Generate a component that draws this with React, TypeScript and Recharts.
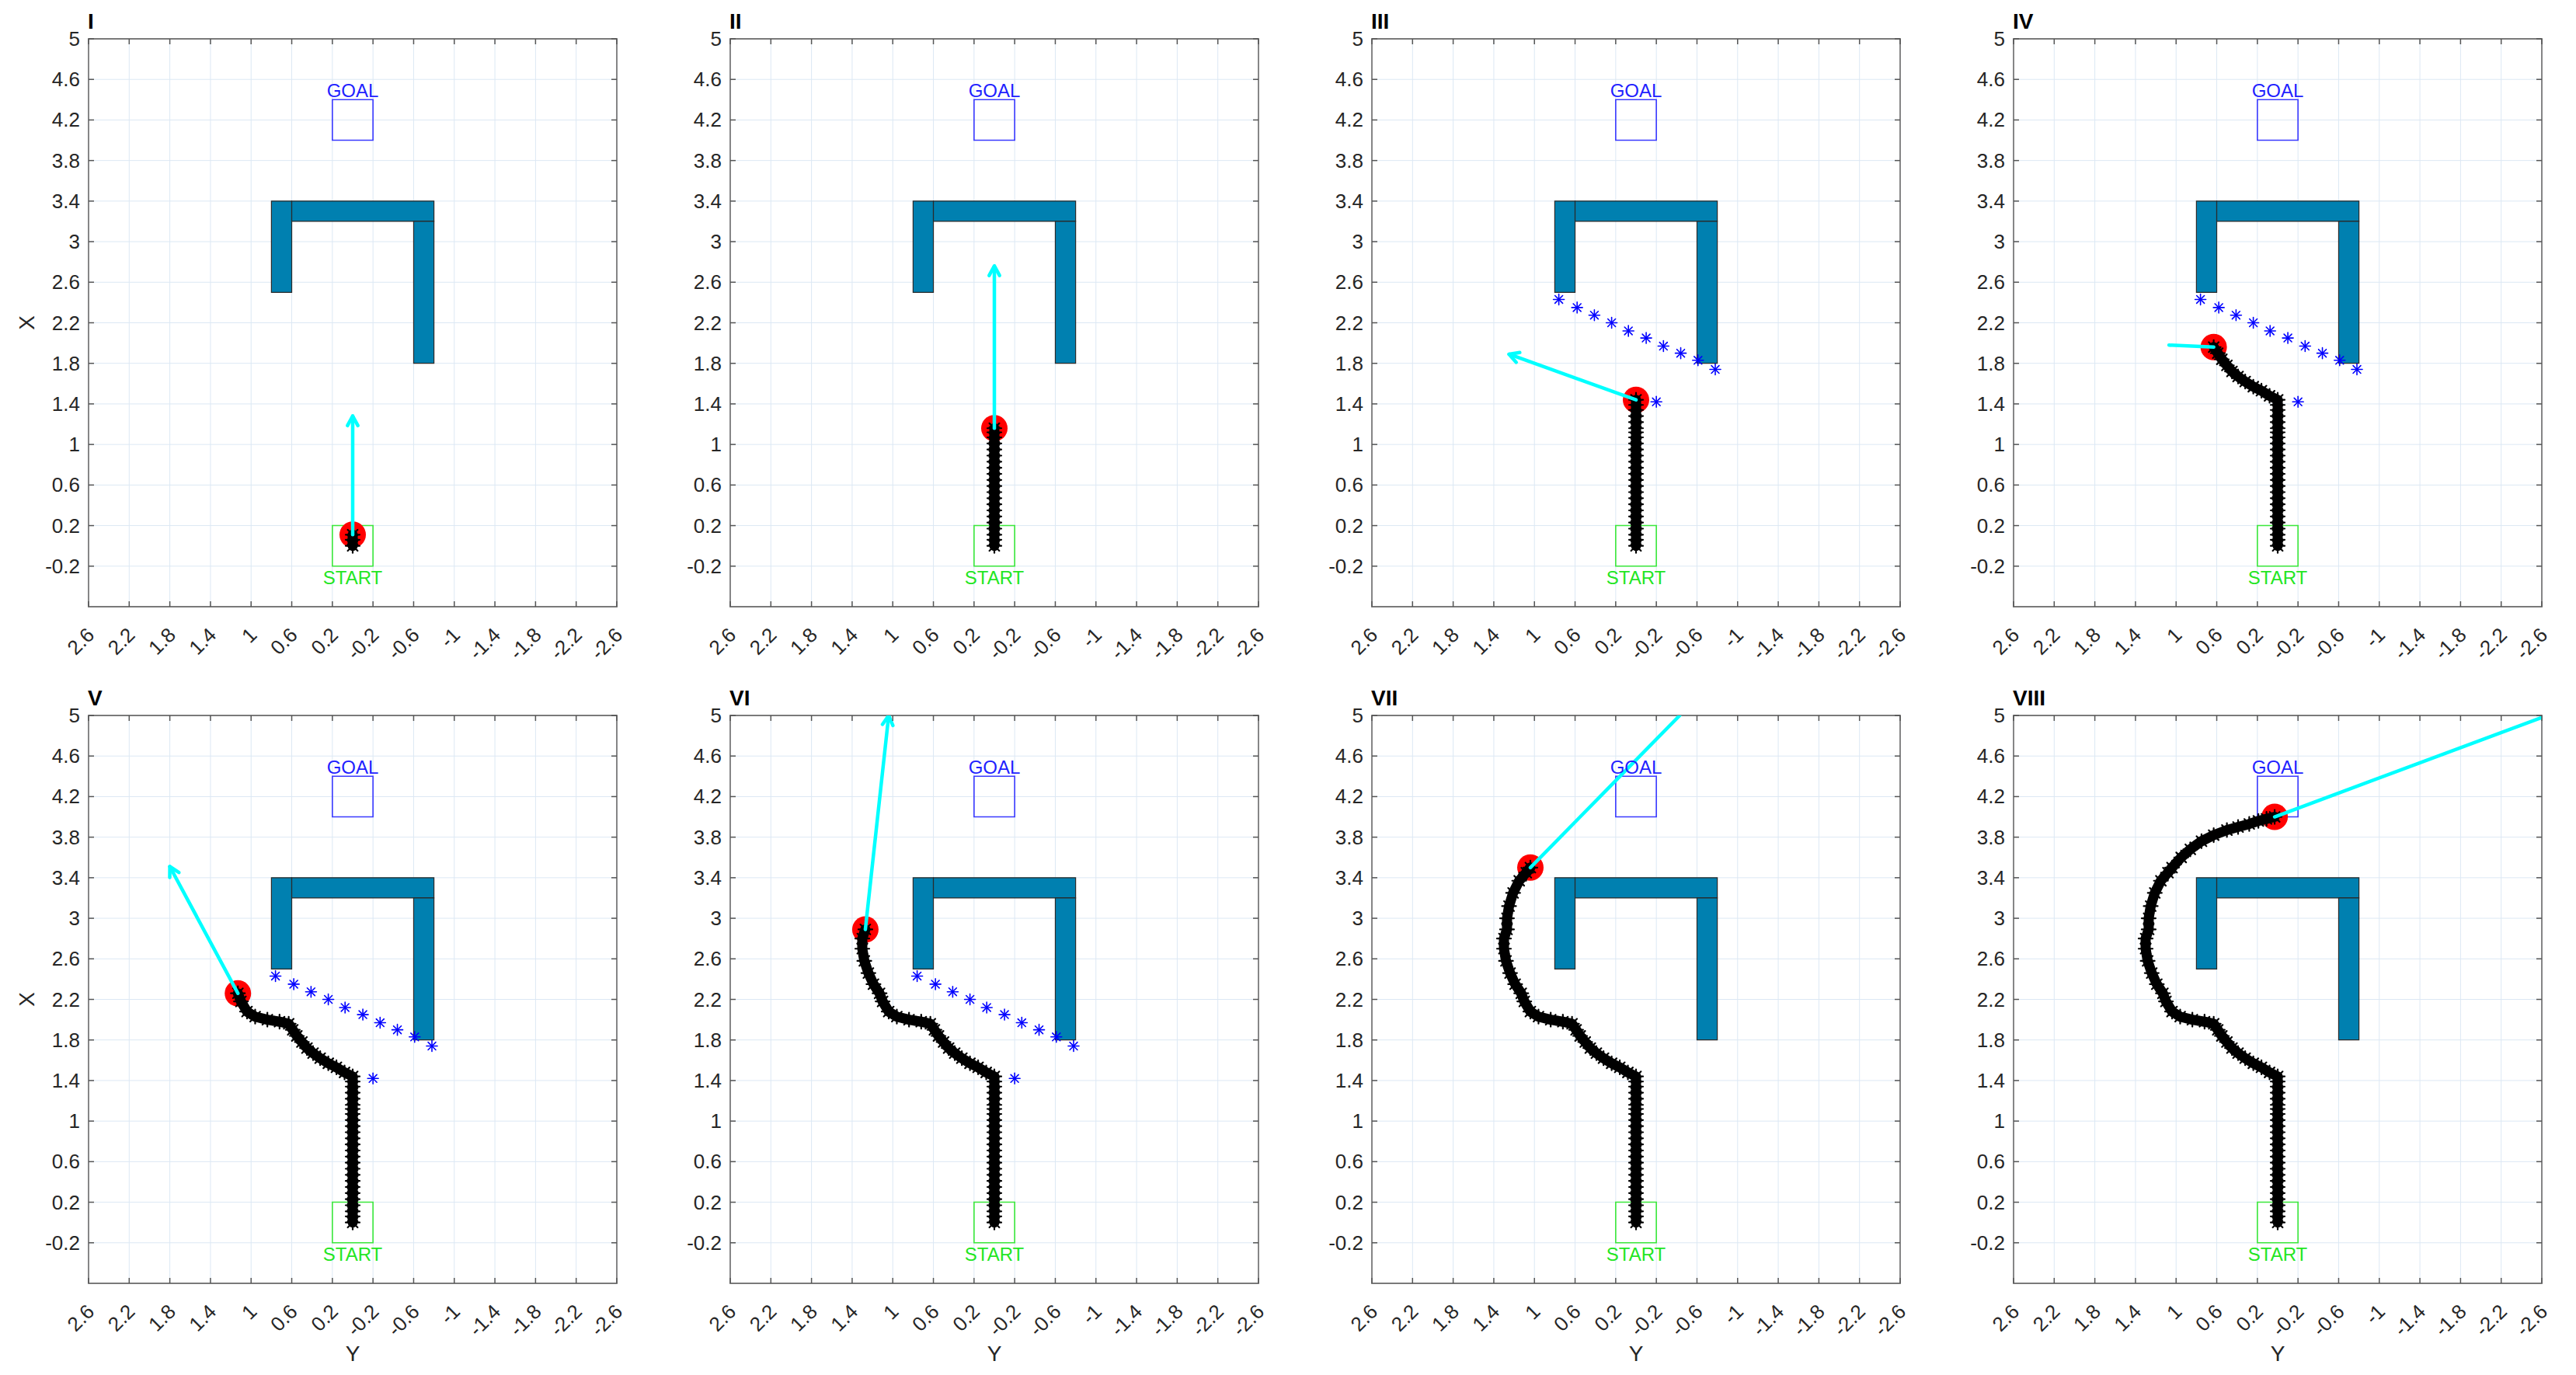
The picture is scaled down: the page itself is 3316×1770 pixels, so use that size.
import React from 'react';
import { ScatterChart, Scatter, XAxis, YAxis, CartesianGrid, ReferenceArea } from 'recharts';

// ---------------- data ----------------
const panelNames = ['I', 'II', 'III', 'IV', 'V', 'VI', 'VII', 'VIII'];

// horizontal axis shows "Y" (reversed), vertical axis shows "X"
const yTickValues = [2.6, 2.2, 1.8, 1.4, 1, 0.6, 0.2, -0.2, -0.6, -1, -1.4, -1.8, -2.2, -2.6];
const xTickValues = [-0.2, 0.2, 0.6, 1, 1.4, 1.8, 2.2, 2.6, 3, 3.4, 3.8, 4.2, 4.6, 5];
const yDomain = [-2.6, 2.6];
const xDomain = [-0.6, 5];

const trajY = [
  0, 0, 0, 0, 0, 0, 0, 0, 0, 0, 0, 0, 0, 0, 0, 0, 0, 0, 0, 0, 0, 0, 0, 0, 0, 0,
  0.08, 0.16, 0.24, 0.32, 0.39, 0.45, 0.5, 0.55, 0.59, 0.63,
  0.72, 0.84, 0.96, 1.04, 1.1, 1.13,
  1.19, 1.24, 1.28, 1.3, 1.3, 1.27,
  1.27, 1.25, 1.21, 1.15, 1.08, 1.04,
  0.95, 0.86, 0.75, 0.63, 0.5, 0.39, 0.28, 0.19, 0.11, 0.03,
];
const trajX = [
  0, 0.06, 0.11, 0.17, 0.23, 0.29, 0.35, 0.41, 0.47, 0.53, 0.59, 0.65, 0.71, 0.77, 0.83, 0.89,
  0.95, 1.01, 1.07, 1.12, 1.16, 1.22, 1.28, 1.34, 1.39, 1.44,
  1.48, 1.53, 1.57, 1.62, 1.67, 1.72, 1.78, 1.84, 1.9, 1.96,
  1.98, 2.0, 2.03, 2.08, 2.18, 2.26,
  2.35, 2.46, 2.58, 2.7, 2.8, 2.89,
  3.0, 3.12, 3.25, 3.37, 3.45, 3.5,
  3.6, 3.68, 3.76, 3.82, 3.87, 3.9, 3.93, 3.96, 3.98, 4.0,
];
// index of the robot's current position in each panel
const panelEnd = [2, 20, 25, 35, 41, 47, 53, 63];

// cyan direction arrow tips per panel
const arrowTipY = [0, 0, 1.25, 1.07, 1.8, 1.04, -0.43, -2.6];
const arrowTipX = [1.28, 2.76, 1.89, 1.98, 3.51, 5.0, 5.0, 4.98];
const arrowHasHead = [true, true, true, false, true, true, false, false];

// detected obstacle points (blue asterisks)
const sensorY = [0.76, 0.58, 0.41, 0.24, 0.075, -0.1, -0.27, -0.44, -0.61, -0.78, -0.2];
const sensorX = [2.43, 2.35, 2.275, 2.2, 2.12, 2.05, 1.97, 1.9, 1.83, 1.74, 1.42];
const showSensor = [false, false, true, true, true, true, false, false];

// obstacle rectangles: Y range, X range
const obstacleY1 = [0.6, -0.8, -0.8];
const obstacleY2 = [0.8, 0.6, -0.6];
const obstacleX1 = [2.5, 3.2, 1.8];
const obstacleX2 = [3.4, 3.4, 3.2];

const goalBoxY = [-0.2, 0.2];
const goalBoxX = [4.0, 4.4];
const startBoxY = [-0.2, 0.2];
const startBoxX = [-0.2, 0.2];

// ---------------- layout ----------------
const PLOT_W = 680;
const PLOT_H = 731;
const COL_LEFT = [114, 940, 1766, 2592];
const ROW_TOP = [50, 921];
const M_LEFT = 110;
const M_TOP = 50;
const M_RIGHT = 20;
const M_BOTTOM = 110;
const FONT = '"Liberation Sans", Arial, Helvetica, sans-serif';
const TEXT_COLOR = '#262626';

const trajectory = trajY.map((y, i) => ({ yPos: y, xPos: trajX[i] }));
const sensors = sensorY.map((y, i) => ({ yPos: y, xPos: sensorX[i] }));

const XTick = (props: any) => {
  const { x, y, payload } = props;
  const ax = x + 9;
  const ay = y + 38;
  return (
    <g>
      <line x1={x} y1={y} x2={x} y2={y - 7} stroke="#555" strokeWidth={1.5} />
      <line x1={x} y1={y - PLOT_H} x2={x} y2={y - PLOT_H + 7} stroke="#555" strokeWidth={1.5} />
      <text
        x={ax}
        y={ay}
        textAnchor="end"
        transform={`rotate(-45 ${ax} ${ay})`}
        fontSize={26}
        fontFamily={FONT}
        fill={TEXT_COLOR}
      >
        {String(payload.value)}
      </text>
    </g>
  );
};

const YTick = (props: any) => {
  const { x, y, payload } = props;
  return (
    <g>
      <line x1={x} y1={y} x2={x + 7} y2={y} stroke="#555" strokeWidth={1.5} />
      <line x1={x + PLOT_W} y1={y} x2={x + PLOT_W - 7} y2={y} stroke="#555" strokeWidth={1.5} />
      <text
        x={x - 11}
        y={y}
        textAnchor="end"
        dominantBaseline="central"
        fontSize={26}
        fontFamily={FONT}
        fill={TEXT_COLOR}
      >
        {String(payload.value)}
      </text>
    </g>
  );
};

const star = (color: string, r: number, w: number) => (props: any) => {
  const { cx, cy } = props;
  if (cx == null || cy == null) return <g />;
  const d = r * 0.7071;
  return (
    <g stroke={color} strokeWidth={w} strokeLinecap="round">
      <line x1={cx - r} y1={cy} x2={cx + r} y2={cy} />
      <line x1={cx} y1={cy - r} x2={cx} y2={cy + r} />
      <line x1={cx - d} y1={cy - d} x2={cx + d} y2={cy + d} />
      <line x1={cx - d} y1={cy + d} x2={cx + d} y2={cy - d} />
    </g>
  );
};

const redDot = (props: any) => {
  const { cx, cy } = props;
  if (cx == null || cy == null) return <g />;
  return <circle cx={cx} cy={cy} r={17} fill="#ff0000" />;
};

const emptyShape = () => <g />;

const makeArrow = (head: boolean) => (p: any) => {
  const pts = p.points || [];
  if (pts.length < 2) return <g />;
  const a = pts[0];
  const b = pts[pts.length - 1];
  const ang = Math.atan2(b.y - a.y, b.x - a.x);
  const L = 14;
  const s = 0.5;
  const h1x = b.x - L * Math.cos(ang - s);
  const h1y = b.y - L * Math.sin(ang - s);
  const h2x = b.x - L * Math.cos(ang + s);
  const h2y = b.y - L * Math.sin(ang + s);
  return (
    <g stroke="#00ffff" strokeWidth={4.5} strokeLinecap="round" strokeLinejoin="round" fill="none">
      <line x1={a.x} y1={a.y} x2={b.x} y2={b.y} />
      {head && <polyline points={`${h1x},${h1y} ${b.x},${b.y} ${h2x},${h2y}`} />}
    </g>
  );
};

function Panel({ index }: { index: number }) {
  const col = index % 4;
  const row = Math.floor(index / 4);
  const end = panelEnd[index];
  const traj = trajectory.slice(0, end + 1);
  const robot = [trajectory[end]];
  const arrow = [trajectory[end], { yPos: arrowTipY[index], xPos: arrowTipX[index] }];
  return (
    <div style={{ position: 'absolute', left: COL_LEFT[col] - M_LEFT, top: ROW_TOP[row] - M_TOP }}>
      <ScatterChart
        width={M_LEFT + PLOT_W + M_RIGHT}
        height={M_TOP + PLOT_H + M_BOTTOM}
        margin={{ top: M_TOP, right: M_RIGHT, bottom: 10, left: 10 }}
      >
        <CartesianGrid stroke="#dce8f4" strokeWidth={1} />
        <XAxis
          type="number"
          dataKey="yPos"
          domain={yDomain}
          reversed
          ticks={yTickValues}
          interval={0}
          allowDataOverflow
          height={M_BOTTOM - 10}
          tickSize={0}
          tickMargin={0}
          tickLine={false}
          axisLine={false}
          tick={XTick}
        />
        <YAxis
          type="number"
          dataKey="xPos"
          domain={xDomain}
          ticks={xTickValues}
          interval={0}
          allowDataOverflow
          width={M_LEFT - 10}
          tickSize={0}
          tickMargin={0}
          tickLine={false}
          axisLine={false}
          tick={YTick}
        />
        {obstacleY1.map((y1, i) => (
          <ReferenceArea
            key={'ob' + i}
            x1={y1}
            x2={obstacleY2[i]}
            y1={obstacleX1[i]}
            y2={obstacleX2[i]}
            fill="#0080b0"
            fillOpacity={1}
            stroke="#2a2a2a"
            strokeWidth={1.2}
          />
        ))}
        <ReferenceArea
          x1={goalBoxY[0]}
          x2={goalBoxY[1]}
          y1={goalBoxX[0]}
          y2={goalBoxX[1]}
          fill="none"
          stroke="#3a3aff"
          strokeWidth={1.6}
          label={{ value: 'GOAL', position: 'top', offset: 3, fill: '#1f1fff', fontSize: 24, fontFamily: FONT }}
        />
        <ReferenceArea
          x1={startBoxY[0]}
          x2={startBoxY[1]}
          y1={startBoxX[0]}
          y2={startBoxX[1]}
          fill="none"
          stroke="#3be83b"
          strokeWidth={1.6}
          label={{ value: 'START', position: 'bottom', offset: 6, fill: '#22e622', fontSize: 24, fontFamily: FONT }}
        />
        {showSensor[index] && (
          <Scatter data={sensors} fill="#0000ff" shape={star('#0000ff', 7, 1.6)} isAnimationActive={false} />
        )}
        <Scatter data={robot} fill="#ff0000" shape={redDot} isAnimationActive={false} />
        <Scatter
          data={traj}
          fill="#000000"
          line={{ stroke: '#000000', strokeWidth: 13, strokeLinejoin: 'round', strokeLinecap: 'round' }}
          lineJointType="linear"
          shape={star('#000000', 9, 2.2)}
          isAnimationActive={false}
        />
        <Scatter
          data={arrow}
          fill="#00ffff"
          line={makeArrow(arrowHasHead[index])}
          shape={emptyShape}
          isAnimationActive={false}
        />
        <ReferenceArea
          x1={yDomain[0]}
          x2={yDomain[1]}
          y1={xDomain[0]}
          y2={xDomain[1]}
          fill="none"
          stroke="#7a7a7a"
          strokeWidth={1.8}
        />
      </ScatterChart>
    </div>
  );
}

export default function App() {
  return (
    <div style={{ position: 'absolute', left: 0, top: 0, width: 3316, height: 1770, background: '#ffffff', overflow: 'hidden' }}>
      {panelNames.map((_, i) => (
        <Panel key={i} index={i} />
      ))}
      <svg width={3316} height={1770} style={{ position: 'absolute', left: 0, top: 0, pointerEvents: 'none' }}>
        {panelNames.map((name, i) => {
          const col = i % 4;
          const row = Math.floor(i / 4);
          return (
            <text key={'n' + i} x={COL_LEFT[col] - 1} y={ROW_TOP[row] - 13} fontSize={28} fontWeight="bold" fontFamily={FONT} fill="#000">
              {name}
            </text>
          );
        })}
        {ROW_TOP.map((top, r) => (
          <text
            key={'xl' + r}
            x={44}
            y={top + PLOT_H / 2}
            textAnchor="middle"
            transform={`rotate(-90 44 ${top + PLOT_H / 2})`}
            fontSize={28}
            fontFamily={FONT}
            fill={TEXT_COLOR}
          >
            X
          </text>
        ))}
        {COL_LEFT.map((left, c) => (
          <text key={'yl' + c} x={left + PLOT_W / 2} y={1752} textAnchor="middle" fontSize={28} fontFamily={FONT} fill={TEXT_COLOR}>
            Y
          </text>
        ))}
      </svg>
    </div>
  );
}
